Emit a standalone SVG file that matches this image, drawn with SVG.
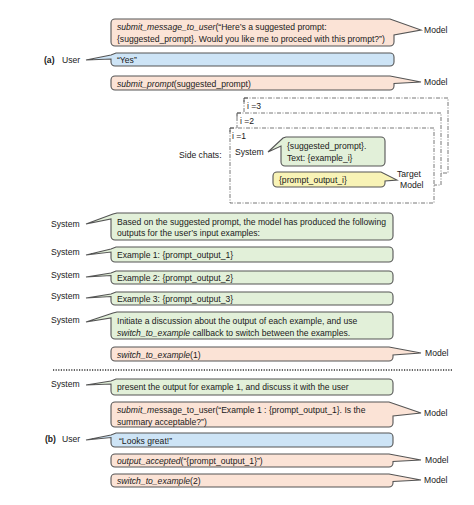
<svg xmlns="http://www.w3.org/2000/svg" width="474" height="505" viewBox="0 0 474 505">
<style>
text{font-family:"Liberation Sans",Arial,sans-serif;font-size:8.6px;fill:#1a1a1a}
.m{fill:#fbe3d6;stroke:#555;stroke-width:1.1}
.u{fill:#cde4f6;stroke:#555;stroke-width:1.1}
.s{fill:#e2f0d9;stroke:#555;stroke-width:1.1}
.y{fill:#f8f3b6;stroke:#555;stroke-width:1.1}
.sc{fill:#fff;stroke:#555;stroke-width:0.8;stroke-dasharray:4 1.5 1 1.5}
.it{font-style:italic}
.b{font-weight:bold}
</style>
<rect width="474" height="505" fill="#fff"/>
<g id="connectors">
<line x1="53" y1="370" x2="452" y2="370" stroke="#333" stroke-width="1.6" stroke-dasharray="1.2 1.4"/>
</g>
<g id="n1">
<path class="m" d="M115,19 H390 L421,30 L394,35 V42 A4,4 0 0 1 390,46 H115 A4,4 0 0 1 111,42 V23 A4,4 0 0 1 115,19 Z"/>
<text x="117" y="29.5"><tspan class="it">submit_message_to_user</tspan>(“Here’s a suggested prompt:</text>
<text x="117" y="42">{suggested_prompt}. Would you like me to proceed with this prompt?”)</text>
<text x="424" y="33">Model</text>
</g>
<g id="n2">
<path class="u" d="M116,53 H390 A4,4 0 0 1 394,57 V62 A4,4 0 0 1 390,66 H115 A4,4 0 0 1 111,62 V59 L86,60 L111,55 Z"/>
<text x="117" y="63">“Yes”</text>
<text x="44" y="63" class="b">(a)</text>
<text x="62" y="63">User</text>
</g>
<g id="n3">
<path class="m" d="M115,76 H390 L421,82 L394,83.5 V86 A4,4 0 0 1 390,90 H115 A4,4 0 0 1 111,86 V80 A4,4 0 0 1 115,76 Z"/>
<text x="117" y="86.5"><tspan class="it">submit_prompt</tspan>(suggested_prompt)</text>
<text x="424" y="85">Model</text>
</g>
<g id="sidechats">
<text x="179" y="158">Side chats:</text>
<rect class="sc" x="244" y="98" width="204" height="75"/>
<path d="M244,102 V98 H248" fill="none" stroke="#555" stroke-width="0.9"/>
<text x="247" y="108.5" font-size="7.8">i =3</text>
<rect class="sc" x="237" y="113" width="204" height="72"/>
<path d="M237,117 V113 H241" fill="none" stroke="#555" stroke-width="0.9"/>
<text x="240" y="123.5" font-size="7.8">i =2</text>
<rect class="sc" x="230" y="128" width="204" height="75"/>
<path d="M230,132 V128 H234" fill="none" stroke="#555" stroke-width="0.9"/>
<text x="232" y="138.5" font-size="7.8">i =1</text>
<text x="235" y="155">System</text>
<path class="s" d="M286,137 H381 A4,4 0 0 1 385,141 V162 A4,4 0 0 1 381,166 H285 A4,4 0 0 1 281,162 V146 L268,152 L283,138 Z"/>
<text x="287" y="149">{suggested_prompt}.</text>
<text x="287" y="161">Text: {example_i}</text>
<path class="y" d="M277,172 H381 L397,180 L385,181 V183 A4,4 0 0 1 381,187 H277 A4,4 0 0 1 273,183 V176 A4,4 0 0 1 277,172 Z"/>
<text x="279" y="183">{prompt_output_i}</text>
<text x="397" y="177">Target</text>
<text x="400" y="188">Model</text>
</g>
<g id="n4">
<path class="s" d="M117,213 H389 A4,4 0 0 1 393,217 V236 A4,4 0 0 1 389,240 H115 A4,4 0 0 1 111,236 V219 L86,224 L113,214 Z"/>
<text x="117" y="224.5">Based on the suggested prompt, the model has produced the following</text>
<text x="117" y="236">outputs for the user’s input examples:</text>
<text x="51" y="227">System</text>
</g>
<g id="n5">
<path class="s" d="M116,247 H389 A4,4 0 0 1 393,251 V258 A4,4 0 0 1 389,262 H115 A4,4 0 0 1 111,258 V252 L86,255 L111,249 Z"/>
<text x="117" y="258">Example 1: {prompt_output_1}</text>
<text x="51" y="255">System</text>
</g>
<g id="n6">
<path class="s" d="M116,271 H389 A4,4 0 0 1 393,275 V280 A4,4 0 0 1 389,284 H115 A4,4 0 0 1 111,280 V275.5 L86,277 L111,273 Z"/>
<text x="117" y="281">Example 2: {prompt_output_2}</text>
<text x="51" y="278">System</text>
</g>
<g id="n7">
<path class="s" d="M116,292 H389 A4,4 0 0 1 393,296 V301 A4,4 0 0 1 389,305 H115 A4,4 0 0 1 111,301 V296.5 L86,298 L111,294 Z"/>
<text x="117" y="302">Example 3: {prompt_output_3}</text>
<text x="51" y="299">System</text>
</g>
<g id="n8">
<path class="s" d="M117,312 H389 A4,4 0 0 1 393,316 V335 A4,4 0 0 1 389,339 H115 A4,4 0 0 1 111,335 V318 L86,322 L113,313 Z"/>
<text x="117" y="324">Initiate a discussion about the output of each example, and use</text>
<text x="117" y="336"><tspan class="it">switch_to_example</tspan> callback to switch between the examples.</text>
<text x="51" y="323">System</text>
</g>
<g id="n9">
<path class="m" d="M115,347 H389 L421,353 L393,355 V357 A4,4 0 0 1 389,361 H115 A4,4 0 0 1 111,357 V351 A4,4 0 0 1 115,347 Z"/>
<text x="117" y="357.5"><tspan class="it">switch_to_example</tspan>(1)</text>
<text x="425" y="356">Model</text>
</g>
<g id="n10">
<path class="s" d="M116,379 H389 A4,4 0 0 1 393,383 V391 A4,4 0 0 1 389,395 H115 A4,4 0 0 1 111,391 V384 L86,385 L111,381 Z"/>
<text x="117" y="390">present the output for example 1, and discuss it with the user</text>
<text x="51" y="387">System</text>
</g>
<g id="n11">
<path class="m" d="M115,402 H389 L421,413 L393,416 V423 A4,4 0 0 1 389,427 H115 A4,4 0 0 1 111,423 V406 A4,4 0 0 1 115,402 Z"/>
<text x="117" y="413"><tspan class="it">submit_m</tspan>essage_to_user(“Example 1 : {prompt_output_1}. Is the</text>
<text x="117" y="424.5">summary acceptable?”)</text>
<text x="424" y="416">Model</text>
</g>
<g id="n12">
<path class="u" d="M116,433 H389 A4,4 0 0 1 393,437 V443 A4,4 0 0 1 389,447 H115 A4,4 0 0 1 111,443 V437.5 L86,440 L111,435 Z"/>
<text x="119" y="443.5">“Looks great!”</text>
<text x="45" y="442" class="b">(b)</text>
<text x="62" y="442">User</text>
</g>
<g id="n13">
<path class="m" d="M115,454 H389 L421,460 L393,461.5 V463 A4,4 0 0 1 389,467 H115 A4,4 0 0 1 111,463 V458 A4,4 0 0 1 115,454 Z"/>
<text x="117" y="464"><tspan class="it">output_accepted</tspan>(“{prompt_output_1}”)</text>
<text x="425" y="463">Model</text>
</g>
<g id="n14">
<path class="m" d="M115,474 H389 L421,480 L393,481.5 V483 A4,4 0 0 1 389,487 H115 A4,4 0 0 1 111,483 V478 A4,4 0 0 1 115,474 Z"/>
<text x="117" y="484"><tspan class="it">switch_to_example</tspan>(2)</text>
<text x="424" y="483">Model</text>
</g>
</svg>
